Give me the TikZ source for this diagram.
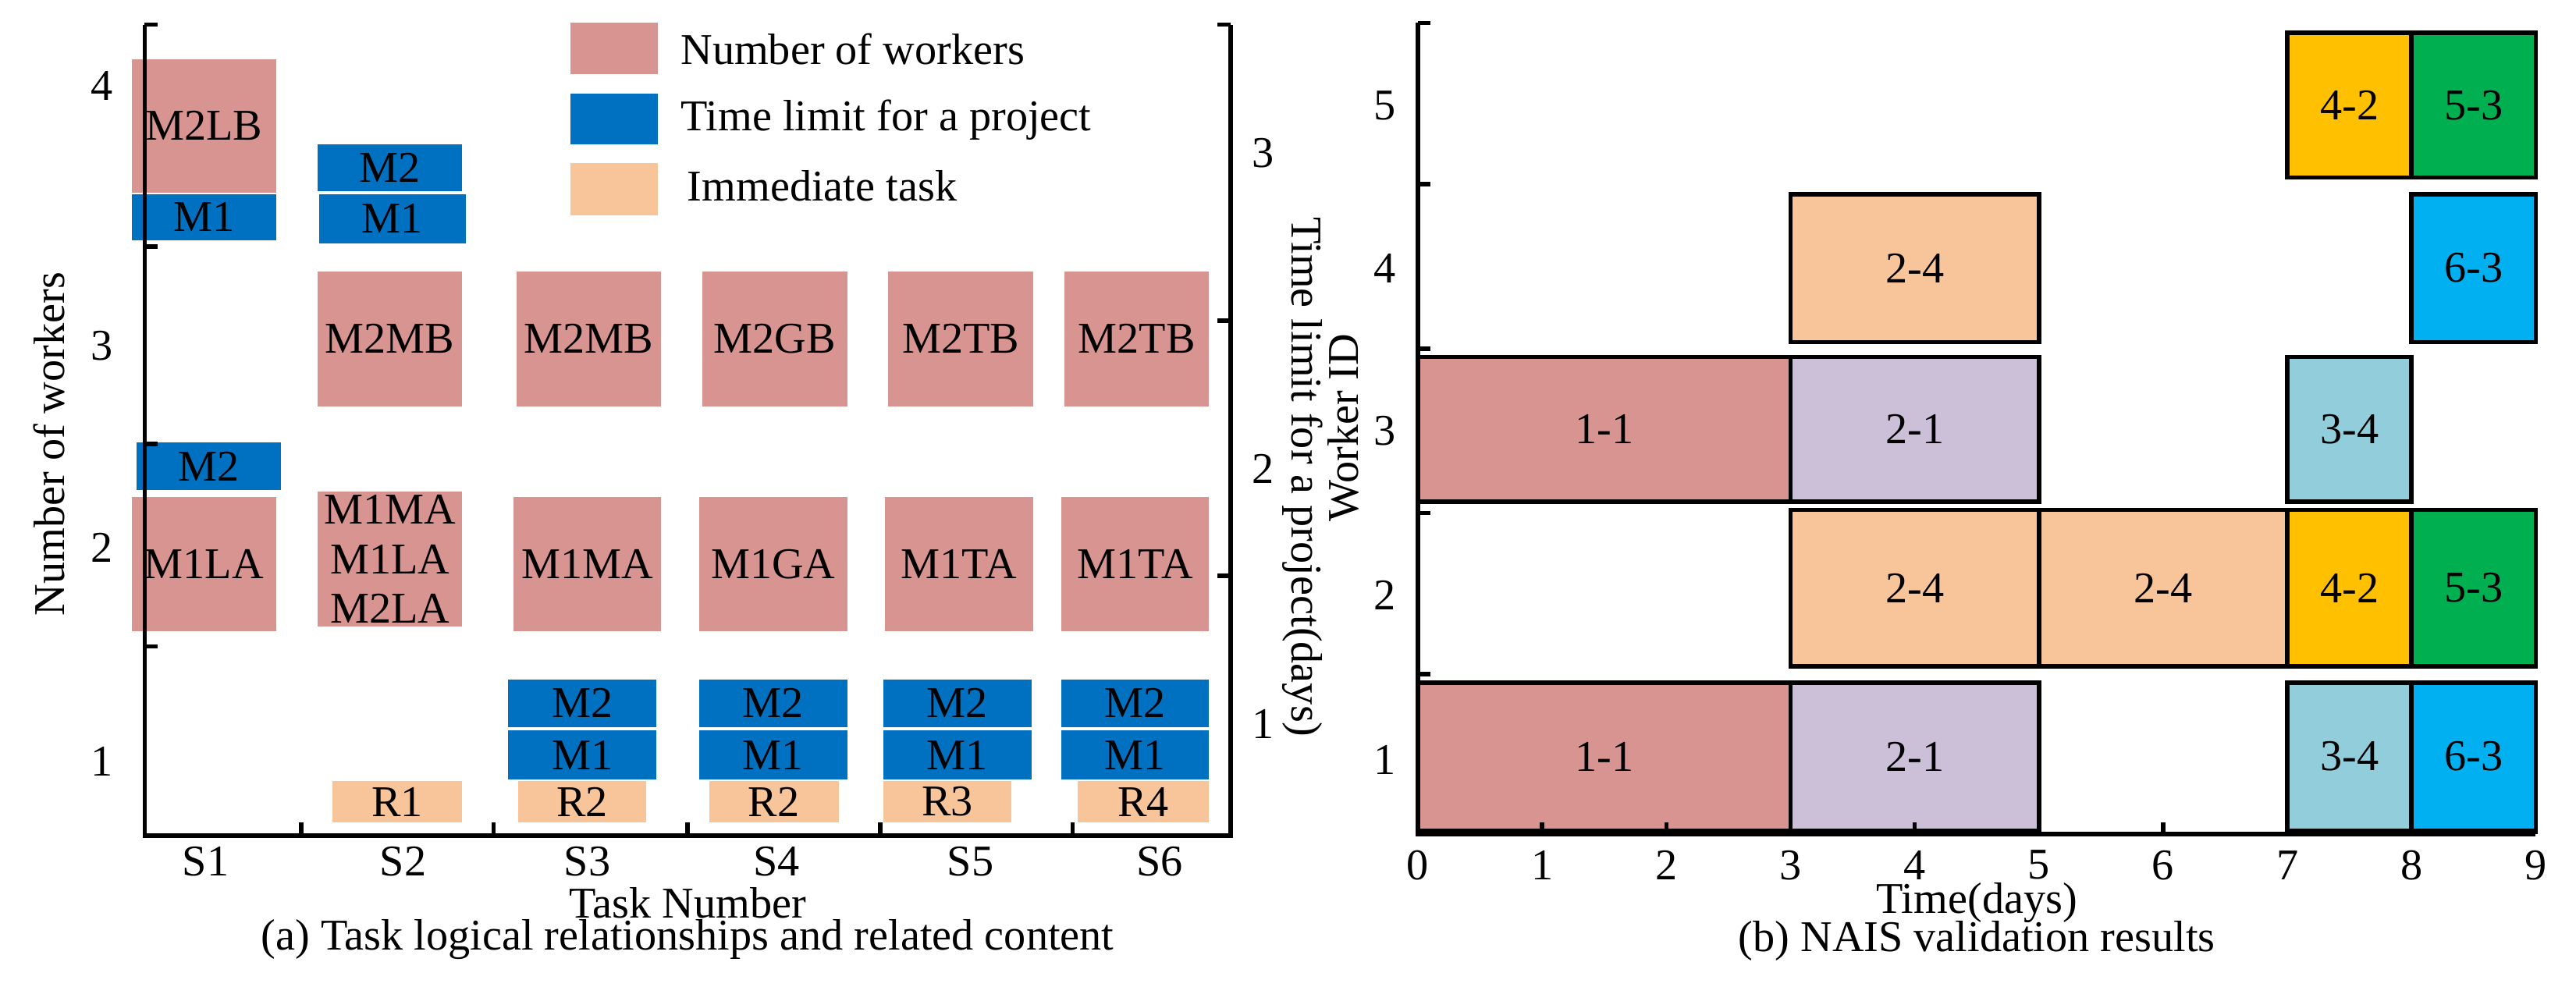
\documentclass[tikz,border=0pt]{standalone}
\usepackage{fontspec}
\setmainfont{Liberation Serif}
\begin{document}
\begin{tikzpicture}[x=0.02108cm,y=-0.02108cm,font=\fontsize{16}{18}\selectfont,
 pk/.style={fill=cpink,draw=none},
 bl/.style={fill=cblue,draw=none},
 og/.style={fill=corange,draw=none},
 gb/.style={draw=black,line width=1.6pt},
 ax/.style={line width=1.6pt},
 tight/.style={inner sep=0pt}]
\definecolor{cpink}{HTML}{D89491}
\definecolor{cblue}{HTML}{0070C0}
\definecolor{corange}{HTML}{F8C49A}
\definecolor{clav}{HTML}{CBC0D8}
\definecolor{cgold}{HTML}{FFC000}
\definecolor{cgreen}{HTML}{00B050}
\definecolor{csky}{HTML}{00B0F0}
\definecolor{clb}{HTML}{92CDDC}
\useasboundingbox (0,0) rectangle (1566,600);
% ---- left panel
\newcommand\bx[6]{\fill[#1] (#2,#3) rectangle (#4,#5); \node[align=center,font=\fontsize{16}{18}\selectfont] at ({(#2+#4)/2},{(#3+#5)/2}) {#6};}
\bx{pk}{80}{36}{168}{117}{M2LB}
\bx{bl}{80}{118}{168}{146}{M1}
\bx{bl}{83}{269}{171}{298}{M2}
\bx{pk}{80}{302}{168}{384}{M1LA}
\bx{bl}{193}{88}{281}{116}{M2}
\bx{bl}{194}{118}{283}{148}{M1}
\bx{pk}{193}{165}{281}{247}{M2MB}
\bx{pk}{193}{299}{281}{381}{M1MA\\M1LA\\M2LA}
\bx{og}{202}{475}{281}{500}{R1}
\bx{pk}{314}{165}{402}{247}{M2MB}
\bx{pk}{312}{302}{402}{384}{M1MA}
\bx{bl}{309}{413}{399}{442}{M2}
\bx{bl}{309}{444}{399}{474}{M1}
\bx{og}{315}{475}{393}{500}{R2}
\bx{pk}{427}{165}{515}{247}{M2GB}
\bx{pk}{425}{302}{515}{384}{M1GA}
\bx{bl}{425}{413}{515}{442}{M2}
\bx{bl}{425}{444}{515}{474}{M1}
\bx{og}{431}{475}{510}{500}{R2}
\bx{pk}{540}{165}{628}{247}{M2TB}
\bx{pk}{538}{302}{628}{384}{M1TA}
\bx{bl}{537}{413}{627}{442}{M2}
\bx{bl}{537}{444}{627}{474}{M1}
\bx{og}{537}{475}{615}{500}{R3}
\bx{pk}{647}{165}{735}{247}{M2TB}
\bx{pk}{645}{302}{735}{384}{M1TA}
\bx{bl}{645}{413}{735}{442}{M2}
\bx{bl}{645}{444}{735}{474}{M1}
\bx{og}{655}{475}{735}{500}{R4}
% legend
\fill[cpink] (347,14) rectangle (400,45); \node[anchor=west] (l1) at (408,30) {Number of workers};
\fill[cblue] (347,57) rectangle (400,88); \node[anchor=west] (l2) at (408,73) {Time limit for a project};
\fill[corange] (347,99) rectangle (400,131); \node[anchor=west] (l3) at (412,113) {Immediate task};
% axes
\draw[ax] (88,15) -- (88,508) -- (748,508) -- (748,15);
\foreach \y in {15,150,270,393} \draw[ax] (88,\y) -- (96,\y);
\foreach \y in {15,195,350} \draw[ax] (748,\y) -- (740,\y);
\foreach \x in {183,300,418,535,652} \draw[ax] (\x,508) -- (\x,500);
\foreach \t/\y in {4/52,3/210,2/333,1/463} \node at (62,\y) {\t};
\foreach \t/\y in {3/93,2/285,1/440} \node at (768,\y) {\t};
\foreach \t/\x in {S1/125,S2/245,S3/357,S4/472,S5/590,S6/705} \node[tight] at (\x,524) {\t};
\node[tight] at (418,549) {Task Number};
\node[tight] at (418,571) {(a) Task logical relationships and related content};
\node[rotate=90] at (30,270) {Number of workers};
\node[rotate=-90] at (792,290) {Time limit for a project(days)};
% ---- right panel
\begin{scope}[shift={(862,0)},x=75.5*0.02108cm]
\newcommand\gt[6]{\filldraw[gb,fill=#1] (#2,#3) rectangle (#4,#5); \node at ({(#2+#4)/2},{(#3+#5)/2}) {#6};}
\gt{cpink}{0}{415}{3}{505}{1-1}
\gt{clav}{3}{415}{5}{505}{2-1}
\gt{clb}{7}{415}{8}{505}{3-4}
\gt{csky}{8}{415}{9}{505}{6-3}
\gt{corange}{3}{310}{5}{405}{2-4}
\gt{corange}{5}{310}{7}{405}{2-4}
\gt{cgold}{7}{310}{8}{405}{4-2}
\gt{cgreen}{8}{310}{9}{405}{5-3}
\gt{cpink}{0}{217}{3}{305}{1-1}
\gt{clav}{3}{217}{5}{305}{2-1}
\gt{clb}{7}{217}{8}{305}{3-4}
\gt{corange}{3}{118}{5}{208}{2-4}
\gt{csky}{8}{118}{9}{208}{6-3}
\gt{cgold}{7}{20}{8}{108}{4-2}
\gt{cgreen}{8}{20}{9}{108}{5-3}
\draw[ax] (0,14) -- (0,507) -- (9,507);
\foreach \x in {1,...,9} \draw[ax] (\x,507) -- (\x,500);
\foreach \x in {0,...,9} \node[tight] at (\x,526) {\x};
\foreach \y in {14,112,212,312,410} \draw[ax] (0,\y) -- (0.1,\y);
\foreach \t/\y in {1/462,2/362,3/262,4/163,5/64} \node at (-0.27,\y) {\t};
\node[tight] at (4.5,549) {Time(days)};
\node[tight] at (4.5,572) {(b) NAIS validation results};
\node[rotate=90] at (-0.6,260) {Worker ID};
\end{scope}
\end{tikzpicture}
\end{document}
